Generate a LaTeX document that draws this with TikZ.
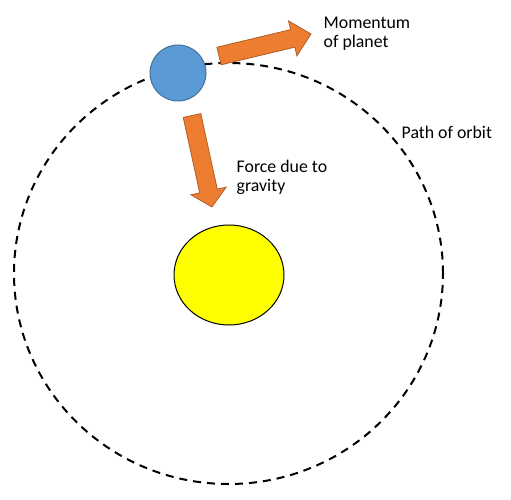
\documentclass[tikz,border=0pt]{standalone}
\usepackage{fontspec}
\setmainfont{Carlito}
\usetikzlibrary{shapes.geometric}
\definecolor{planetblue}{HTML}{5B9BD5}
\definecolor{planetedge}{HTML}{41719C}
\definecolor{arroworange}{HTML}{ED7D31}
\definecolor{arrowedge}{HTML}{AE5A21}
\definecolor{sunyellow}{RGB}{255,255,0}
\begin{document}
\begin{tikzpicture}[x=1bp,y=-1bp,
  orbitline/.style={draw=black,line width=2bp,dash pattern=on 8bp off 6bp},
  blockarrow/.style={fill=arroworange,draw=arrowedge,line width=0.75bp,line join=miter},
  label/.style={inner sep=0pt,anchor=base west,align=left,font=\fontsize{17.8bp}{19.5bp}\selectfont}]
\useasboundingbox (0,0) rectangle (511,500);
% orbit
\draw[orbitline] (228.5,273.5) ellipse [x radius=214.5bp, y radius=210.5bp];
% sun
\node[ellipse,draw=black,line width=1bp,fill=sunyellow,minimum width=110bp,minimum height=100bp,inner sep=0pt] (sun) at (229,275) {};
% planet
\node[circle,draw=planetedge,line width=1bp,fill=planetblue,minimum size=56bp,inner sep=0pt] (planet) at (178,73) {};
% momentum arrow
\draw[blockarrow] (216.9,47.25) -- (290.6,29.6) -- (288.5,20.9) -- (311,34) -- (296.9,55.9) -- (294.8,47.2) -- (221.1,64.75) -- cycle;
% gravity arrow
\draw[blockarrow] (183.2,117.4) -- (200.8,113.6) -- (217.3,189.1) -- (226.1,187.2) -- (212,207) -- (190.9,194.8) -- (199.7,192.9) -- cycle;
% labels (anchor at baseline of last line)
\node[label] (momentum) at (323.5,47.8) {Momentum\\of planet};
\node[label] (gravity) at (236.5,191.8) {Force due to\\gravity};
\node[label] (orbit) at (401.5,138.3) {Path of orbit};
\end{tikzpicture}
\end{document}
